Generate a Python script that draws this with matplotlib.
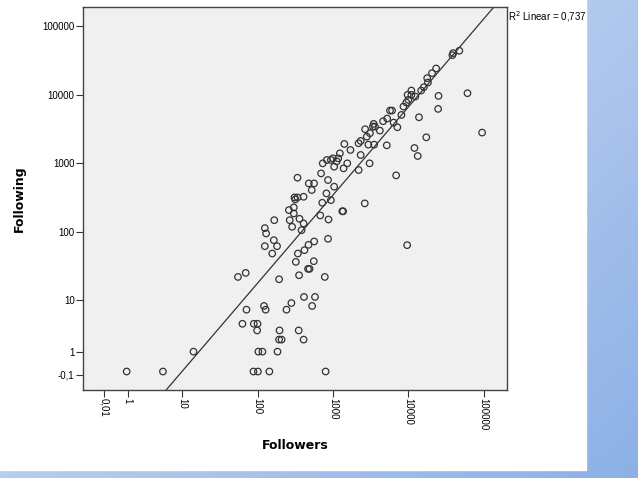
import numpy as np
import matplotlib
matplotlib.use("Agg")
import matplotlib.pyplot as plt

# positions on the chart's log-style axes (decade units, as SPSS drew them)
followers_pos = [
    0.265, 0.746, 1.946, 2.005, 2.157, 2.903,
    1.151, 2.011, 2.065, 2.265,
    2.286, 2.319, 2.611,
    1.995, 2.292, 2.546,
    1.80, 1.951, 2.0,
    1.854, 2.108, 2.384,
    2.086, 2.724, 2.449, 2.616, 2.762,
    1.741, 2.892, 1.843, 2.286, 2.551,
    2.67, 2.69, 2.746, 2.508,
    2.195, 2.535, 2.622, 2.097, 2.259, 2.676, 2.751, 2.216, 2.935,
    2.114, 2.097, 2.584, 2.222, 2.427, 2.941, 2.459, 2.611, 2.557, 2.832,
    3.124, 3.135, 3.422, 2.481, 2.416, 2.481, 2.859, 2.973, 2.5, 2.49,
    2.53, 2.914, 2.611, 2.719, 3.016, 2.68, 2.75, 2.935, 2.53, 3.838,
    2.843, 3.341, 2.865, 3.486, 3.141, 3.016, 3.19, 2.92, 2.973, 3.0,
    3.07, 3.05, 3.368, 3.092, 4.081, 4.124, 3.232, 3.714, 3.47, 3.546,
    3.151, 3.34, 3.368, 4.238, 4.978, 3.449, 3.49, 3.622, 3.427, 3.53,
    3.557, 3.54, 3.665, 3.854, 3.805, 4.141, 3.719, 3.908, 3.757, 3.784,
    4.395, 3.935, 3.973, 4.0, 4.092, 4.784, 4.4, 3.99, 4.04, 4.04,
    4.17, 4.205, 4.26, 4.25, 4.314, 4.368, 4.584, 4.595, 4.676, 3.984,
]
following_pos = [
    -0.04, -0.04, -0.04, -0.04, -0.04, -0.04,
    0.25, 0.25, 0.25, 0.25,
    0.426, 0.426, 0.426,
    0.56, 0.56, 0.56,
    0.657, 0.657, 0.657,
    0.863, 0.863, 0.863,
    0.917, 0.917, 0.96, 1.049, 1.049,
    1.341, 1.341, 1.40, 1.307, 1.366,
    1.459, 1.459, 1.571, 1.561,
    1.683, 1.683, 1.732, 1.79, 1.79, 1.81, 1.859, 1.878, 1.898,
    1.976, 2.054, 2.024, 2.17, 2.17, 2.18, 2.073, 2.122, 2.19, 2.239,
    2.30, 2.30, 2.415, 2.356, 2.317, 2.268, 2.424, 2.463, 2.473, 2.502,
    2.502, 2.561, 2.512, 2.61, 2.659, 2.707, 2.707, 2.756, 2.79, 2.824,
    2.853, 2.902, 3.0, 3.0, 2.927, 2.951, 3.0, 3.049, 3.049, 3.073,
    3.073, 3.029, 3.122, 3.146, 3.224, 3.107, 3.195, 3.263, 3.273, 3.273,
    3.283, 3.293, 3.327, 3.38, 3.449, 3.39, 3.44, 3.478, 3.498, 3.537,
    3.537, 3.576, 3.615, 3.527, 3.595, 3.673, 3.654, 3.707, 3.771, 3.771,
    3.795, 3.829, 3.888, 3.927, 3.976, 4.024, 3.985, 4.0, 4.0, 4.063,
    4.063, 4.112, 4.18, 4.244, 4.317, 4.385, 4.58, 4.61, 4.644, 1.805,
]

x_tick_pos = [-0.04, 0.28, 1, 2, 3, 4, 5]
x_tick_labels = ["0,01", "1", "10", "100", "1000", "10000", "100000"]
y_tick_pos = [-0.09, 0.25, 1, 2, 3, 4, 5]
y_tick_labels = ["-0,1", "1", "10", "100", "1000", "10000", "100000"]

# fit line as drawn
fit_intercept = -1.325
fit_slope = 1.287
r2_text = "R$^2$ Linear = 0,737"

W, H = 638, 478
fig = plt.figure(figsize=(W / 100, H / 100), dpi=100)

# slide background: blue gradient with white content area
bg = fig.add_axes([0, 0, 1, 1], zorder=-10)
gx = np.linspace(0, 1, 300)
gy = np.linspace(0, 1, 300)
GX, GY = np.meshgrid(gx, gy)
t = np.clip(0.55 * GX + 0.45 * (1 - GY), 0, 1)
c0 = np.array([0.86, 0.90, 0.97])
c1 = np.array([0.55, 0.69, 0.90])
img = c0[None, None, :] * (1 - t[..., None]) + c1[None, None, :] * t[..., None]
bg.imshow(img, extent=[0, 1, 0, 1], aspect="auto", origin="lower")
bg.add_patch(plt.Rectangle((0, 8 / H), 586 / W, 1 - 8 / H, color="white"))
bg.set_xlim(0, 1)
bg.set_ylim(0, 1)
bg.axis("off")

ax = fig.add_axes([83 / W, 1 - 390 / H, (507 - 83) / W, (390 - 7) / H])
ax.set_facecolor("#f0f0f0")
ax.scatter(followers_pos, following_pos, s=22, facecolors="none",
           edgecolors="#333333", linewidths=0.9, zorder=3)

xl = np.array([-0.314, 5.308])
ax.plot(xl, fit_intercept + fit_slope * xl, color="#333333", lw=0.9, zorder=2)
ax.set_xlim(-0.314, 5.308)
ax.set_ylim(-0.31, 5.283)

ax.set_xticks(x_tick_pos)
ax.set_xticklabels(x_tick_labels, rotation=270, fontsize=7, family="Liberation Sans")
ax.set_yticks(y_tick_pos)
ax.set_yticklabels(y_tick_labels, fontsize=7, family="Liberation Sans")
ax.tick_params(length=5, width=0.8, color="#333333", pad=1)
for s in ax.spines.values():
    s.set_color("#444444")
    s.set_linewidth(1.0)

ax.set_xlabel("Followers", fontsize=9, fontweight="bold", labelpad=6)
ax.set_ylabel("Following", fontsize=9, fontweight="bold", labelpad=12)
fig.text(508 / W, 1 - 17 / H, r2_text, fontsize=7, family="Liberation Sans",
         ha="left", va="center")

fig.savefig("out.png", dpi=100)
